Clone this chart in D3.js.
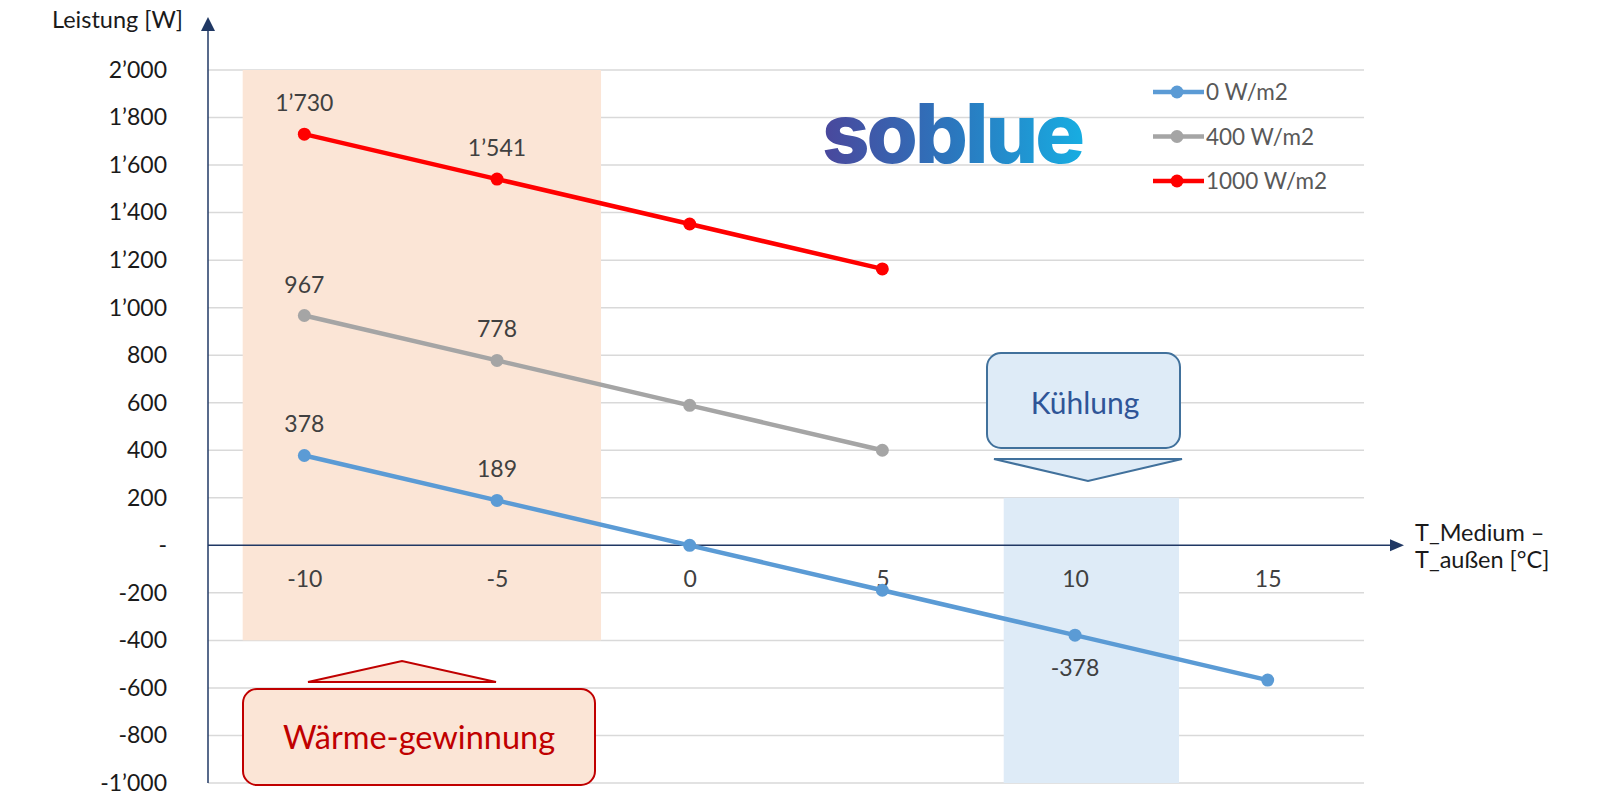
<!DOCTYPE html>
<html>
<head>
<meta charset="utf-8">
<script src="https://cdn.jsdelivr.net/npm/d3@7"></script>
<style>
  html, body { margin: 0; padding: 0; background: #fff; }
  svg { display: block; }
  text { font-family: Lato, "Open Sans", sans-serif; }
</style>
</head>
<body>
<svg id="chart" width="1600" height="800"></svg>
<script>
// ---------- DATA ----------
const categories = [-10, -5, 0, 5, 10, 15];
const seriesNames = ["0 W/m2", "400 W/m2", "1000 W/m2"];
const series0 = [378, 189, 0, -189, -378, -567];
const series400 = [967, 778, 589, 400];
const series1000 = [1730, 1541, 1352, 1163];
const seriesColors = ["#5B9BD5", "#A5A5A5", "#FF0000"];
const yTicks = [-1000, -800, -600, -400, -200, 0, 200, 400, 600, 800, 1000, 1200, 1400, 1600, 1800, 2000];
// data labels: [series index, category, placement]
const labelSeries = [2, 2, 1, 1, 0, 0, 0];
const labelCats = [-10, -5, -10, -5, -10, -5, 10];
const labelPlace = ["above", "above", "above", "above", "above", "above", "below"];
// shaded zones (x in °C, y in W)
const zoneNames = ["Wärme-gewinnung", "Kühlung"];
const zoneX0 = [-11.6, 8.15];
const zoneX1 = [-2.3, 12.7];
const zoneY0 = [-400, -1000];
const zoneY1 = [2000, 200];
const yTitle = "Leistung [W]";
const xTitle = ["T_Medium –", "T_außen [°C]"];

(function () {
// ---------- SETUP ----------
const svg = d3.select("#chart");
const pL = 208, pR = 1364, pT = 70, pB = 783;
const x = d3.scaleLinear().domain([-12.5, 17.5]).range([pL, pR]);
const y = d3.scaleLinear().domain([-1000, 2000]).range([pB, pT]);
const axisColor = "#203864";

const loc = d3.formatLocale({decimal: ".", thousands: "\u2019", grouping: [3], currency: ["", ""], minus: "-"});
const fmt = loc.format(",");
const yFmt = v => v === 0 ? "-" : fmt(v);

// gridlines
svg.append("g").selectAll("line").data(yTicks.filter(v => v !== 0)).join("line")
  .attr("x1", pL).attr("x2", pR)
  .attr("y1", d => y(d)).attr("y2", d => y(d))
  .attr("stroke", "#D9D9D9").attr("stroke-width", 1.5);

// zones
const zoneFill = ["#FBE5D6", "#DEEBF7"];
svg.append("g").selectAll("rect").data(zoneNames).join("rect")
  .attr("x", (d, i) => x(zoneX0[i]))
  .attr("width", (d, i) => x(zoneX1[i]) - x(zoneX0[i]))
  .attr("y", (d, i) => y(zoneY1[i]))
  .attr("height", (d, i) => y(zoneY0[i]) - y(zoneY1[i]))
  .attr("fill", (d, i) => zoneFill[i]);

// axes (labels)
const yAxis = d3.axisLeft(y).tickValues(yTicks).tickSize(0).tickPadding(41).tickFormat(yFmt);
const gy = svg.append("g").attr("transform", `translate(${pL},0)`).call(yAxis);
gy.select(".domain").remove();
gy.selectAll("text").attr("font-size", 23).style("font-family", "Lato, sans-serif").attr("fill", "#1a1a1a");

const xAxis = d3.axisBottom(x).tickValues(categories).tickSize(0).tickPadding(25).tickFormat(d => String(d));
const gx = svg.append("g").attr("transform", `translate(0,${y(0)})`).call(xAxis);
gx.select(".domain").remove();
gx.selectAll("text").attr("font-size", 23).style("font-family", "Lato, sans-serif").attr("fill", "#404040");

// axis lines with arrows
svg.append("line").attr("x1", pL).attr("x2", pL).attr("y1", pB).attr("y2", 30)
  .attr("stroke", axisColor).attr("stroke-width", 1.5);
svg.append("path").attr("d", `M${pL - 7},31 L${pL + 7},31 L${pL},17 Z`).attr("fill", axisColor);
svg.append("line").attr("x1", pL).attr("x2", 1391).attr("y1", y(0)).attr("y2", y(0))
  .attr("stroke", axisColor).attr("stroke-width", 1.5);
svg.append("path").attr("d", `M1390,${y(0) - 6} L1390,${y(0) + 6} L1404,${y(0)} Z`).attr("fill", axisColor);

svg.append("text").attr("x", 183).attr("y", 28).attr("text-anchor", "end")
  .attr("font-size", 23.5).attr("fill", "#1a1a1a").text(yTitle);
svg.append("text").attr("x", 1415).attr("y", 541).attr("font-size", 23.5).attr("fill", "#1a1a1a").text(xTitle[0]);
svg.append("text").attr("x", 1415).attr("y", 568).attr("font-size", 23.5).attr("fill", "#1a1a1a").text(xTitle[1]);

// series
const allSeries = [series0, series400, series1000];
const line = d3.line().x(d => x(d[0])).y(d => y(d[1]));
allSeries.forEach((vals, si) => {
  const pts = vals.map((v, i) => [categories[i], v]);
  const g = svg.append("g");
  g.append("path").attr("d", line(pts)).attr("fill", "none")
    .attr("stroke", seriesColors[si]).attr("stroke-width", 4.5).attr("stroke-linejoin", "round");
  g.selectAll("circle").data(pts).join("circle")
    .attr("cx", d => x(d[0])).attr("cy", d => y(d[1])).attr("r", 6.5).attr("fill", seriesColors[si]);
});

// data labels
svg.append("g").selectAll("text").data(labelSeries).join("text")
  .attr("x", (d, i) => x(labelCats[i]))
  .attr("y", (d, i) => {
    const v = allSeries[d][categories.indexOf(labelCats[i])];
    return labelPlace[i] === "above" ? y(v) - 23 : y(v) + 41;
  })
  .attr("text-anchor", "middle").attr("font-size", 23).attr("fill", "#404040")
  .text((d, i) => fmt(allSeries[d][categories.indexOf(labelCats[i])]));

// legend
const legY = [92, 136.5, 181];
const leg = svg.append("g");
seriesNames.forEach((n, i) => {
  leg.append("line").attr("x1", 1153).attr("x2", 1204).attr("y1", legY[i]).attr("y2", legY[i])
    .attr("stroke", seriesColors[i]).attr("stroke-width", 4.5);
  leg.append("circle").attr("cx", 1177).attr("cy", legY[i]).attr("r", 6.5).attr("fill", seriesColors[i]);
  leg.append("text").attr("x", 1206).attr("y", legY[i] + 8).attr("font-size", 22.5).attr("fill", "#595959").text(n);
});

// logo
const defs = svg.append("defs");
const grad = defs.append("linearGradient").attr("id", "logoGrad").attr("x1", "0%").attr("x2", "100%");
grad.append("stop").attr("offset", "0%").attr("stop-color", "#4A479C");
grad.append("stop").attr("offset", "50%").attr("stop-color", "#2B77BE");
grad.append("stop").attr("offset", "100%").attr("stop-color", "#17AEE2");
svg.append("text").attr("x", 822).attr("y", 163).attr("font-size", 83)
  .style("font-family", "Inter, 'Open Sans', sans-serif").style("font-weight", 800)
  .attr("textLength", 263).attr("lengthAdjust", "spacing")
  .attr("fill", "url(#logoGrad)").text("soblue");

// callout: Kühlung
const kc = svg.append("g");
kc.append("rect").attr("x", 987).attr("y", 353).attr("width", 193).attr("height", 95).attr("rx", 14)
  .attr("fill", "#DEEBF7").attr("stroke", "#41719C").attr("stroke-width", 2);
kc.append("text").attr("x", 1085).attr("y", 403).attr("dy", "0.35em").attr("text-anchor", "middle")
  .attr("font-size", 30).attr("fill", "#2F5597").text(zoneNames[1]);
kc.append("path").attr("d", "M994,459 L1182,459 L1088,481 Z")
  .attr("fill", "#DEEBF7").attr("stroke", "#41719C").attr("stroke-width", 2);

// callout: Wärme-gewinnung
const wc = svg.append("g");
wc.append("rect").attr("x", 243).attr("y", 689).attr("width", 352).attr("height", 96).attr("rx", 14)
  .attr("fill", "#FBE5D6").attr("stroke", "#C00000").attr("stroke-width", 2);
wc.append("text").attr("x", 419).attr("y", 738).attr("dy", "0.35em").attr("text-anchor", "middle")
  .attr("font-size", 32.5).attr("fill", "#C00000").text(zoneNames[0]);
wc.append("path").attr("d", "M308,682 L496,682 L402,661 Z")
  .attr("fill", "#FBE5D6").attr("stroke", "#C00000").attr("stroke-width", 2);
})();
</script>
</body>
</html>
